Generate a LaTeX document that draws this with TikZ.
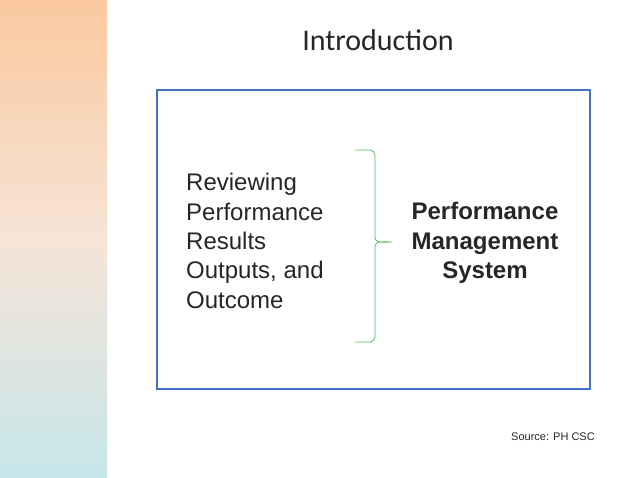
\documentclass[tikz,border=0pt]{standalone}
\usepackage{fontspec}
\setmainfont{Liberation Sans}
\newfontfamily\titlefont{Carlito}
\definecolor{barbot}{HTML}{C6E6EA}
\definecolor{bartop}{HTML}{FAC9A0}
\definecolor{barmid}{HTML}{F6E4D6}
\definecolor{brk}{HTML}{4CC06A}
\begin{document}
\begin{tikzpicture}[x=1pt,y=-1pt,
  bodytext/.style={font=\fontsize{24}{29.3}\selectfont,align=left,inner sep=0pt,text=black!85},
  boldtext/.style={font=\fontsize{24}{29.3}\selectfont\bfseries,align=center,inner sep=0pt,text=black!85}]
\useasboundingbox (0,0) rectangle (638,478);
\fill[white] (0,0) rectangle (638,478);
\shade[top color=bartop, bottom color=barbot, middle color=barmid] (0,0) rectangle (107,478);
\node[font=\titlefont\fontsize{30}{34}\selectfont,text=black!85] (title) at (378,40) {Introduction};
\draw[draw={rgb,255:red,68;green,114;blue,196},line width=1.5pt] (157,90) rectangle (590,389);
\node[bodytext,anchor=west] (left) at (186,241) {Reviewing\\Performance\\Results\\Outputs, and\\Outcome};
\node[boldtext] (right) at (485,243) {Performance\\Management\\System};
\draw[brk,line width=0.8pt] (355,150) -- (370,150) to[out=0,in=90] (375,155) -- (375,237) to[out=270,in=180] (392,242) to[out=180,in=90] (375,247) -- (375,337) to[out=270,in=0] (370,342) -- (355,342);
\node[font=\fontsize{11}{13}\selectfont,text=black!85] (src) at (553,437) {Source: PH CSC};
\end{tikzpicture}
\end{document}
